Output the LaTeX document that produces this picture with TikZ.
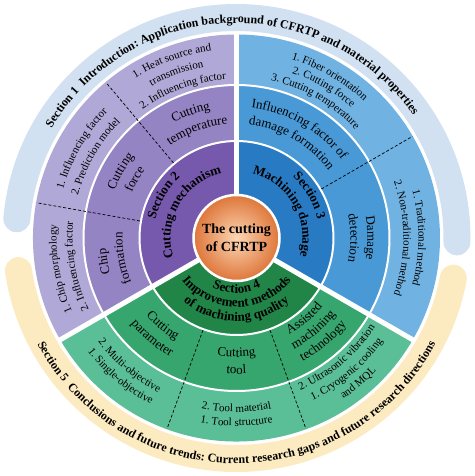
\documentclass[tikz,border=0pt]{standalone}
\usepackage{fontspec}
\setmainfont{Liberation Serif}
\usetikzlibrary{decorations.text}

\definecolor{purA}{RGB}{118,88,172}
\definecolor{purB}{RGB}{148,132,195}
\definecolor{purC}{RGB}{176,168,214}
\definecolor{bluA}{RGB}{40,122,195}
\definecolor{bluB}{RGB}{72,153,214}
\definecolor{bluC}{RGB}{112,178,225}
\definecolor{grnA}{RGB}{33,133,72}
\definecolor{grnB}{RGB}{55,165,110}
\definecolor{grnC}{RGB}{90,190,150}
\definecolor{bandblue}{RGB}{210,225,241}
\definecolor{bandyellow}{RGB}{252,235,192}
\definecolor{corein}{RGB}{252,214,180}
\definecolor{coreout}{RGB}{222,118,58}

\newcommand{\secfont}{\bfseries\fontsize{13}{15}\selectfont}
\newcommand{\midfont}{\fontsize{13}{15}\selectfont}
\newcommand{\outfont}{\fontsize{11}{13}\selectfont}
\newcommand{\bandfont}{\bfseries\fontsize{12}{14}\selectfont}

% piece of a ring: colour, from, to, inner r, outer r
\newcommand{\ringpart}[5]{\fill[#1] (#2:#4) arc[start angle=#2,end angle=#3,radius=#4] -- (#3:#5) arc[start angle=#3,end angle=#2,radius=#5] -- cycle;}
% one line of text on an arc: from, to, radius, font, text
\newcommand{\arcline}[5]{\path[decorate,decoration={text along path,text align=center,text={|#4|#5}}] (#1:#3) arc[start angle=#1,end angle=#2,radius=#3];}

\tikzset{
  gapline/.style={white, line width=5},
  ringline/.style={white, line width=2},
  cutline/.style={black, line width=0.7, dash pattern=on 3pt off 2pt},
  bandarc/.style={line width=27, line cap=round}
}

\begin{document}
\begin{tikzpicture}[x=1pt,y=1pt]
\useasboundingbox (-236.5,-238) rectangle (237.5,238);

\draw[bandarc, bandblue] (175:220.5) arc[start angle=175, end angle=-1, radius=220.5];
\draw[bandarc, bandyellow] (188.5:220.5) arc[start angle=188.5, end angle=349.5, radius=220.5];

\ringpart{purA}{90}{210}{40}{97}
\ringpart{purB}{90}{210}{97}{153}
\ringpart{purC}{90}{210}{153}{203.5}
\ringpart{bluA}{-30}{90}{40}{97}
\ringpart{bluB}{-30}{90}{97}{153}
\ringpart{bluC}{-30}{90}{153}{203.5}
\ringpart{grnA}{210}{330}{40}{97}
\ringpart{grnB}{210}{330}{97}{153}
\ringpart{grnC}{210}{330}{153}{203.5}

\foreach \r in {97,153}{
  \draw[ringline] (0,0) circle[radius=\r];
}
\foreach \a in {90,210,330}{
  \draw[gapline] (0,0) -- (\a:205);
}
\foreach \a in {30,130,170,250,290}{
  \draw[cutline] (\a:98) -- (\a:203);
}

\shadedraw[inner color=corein, outer color=coreout, draw=white, line width=2.5] (0,0) circle[radius=43];
\node[align=center, font=\bfseries\fontsize{14}{18}\selectfont] (core) at (0,0) {The cutting\\of CFRTP};

% sections
\arcline{210}{90}{83}{\secfont}{Section 2}
\arcline{210}{90}{66}{\secfont}{Cutting mechanism}
\arcline{90}{-30}{83}{\secfont}{Section 3}
\arcline{90}{-30}{66}{\secfont}{Machining damage}
\arcline{210}{330}{55}{\secfont}{Section 4}
\arcline{210}{330}{69}{\secfont}{Improvement methods}
\arcline{210}{330}{83}{\secfont}{of machining quality}

% middle ring
\arcline{130}{90}{131}{\midfont}{Cutting}
\arcline{130}{90}{114}{\midfont}{temperature}
\arcline{170}{130}{131}{\midfont}{Cutting}
\arcline{170}{130}{114}{\midfont}{force}
\arcline{210}{170}{131}{\midfont}{Chip}
\arcline{210}{170}{114}{\midfont}{formation}
\arcline{90}{30}{131}{\midfont}{Influencing factor of}
\arcline{90}{30}{114}{\midfont}{damage formation}
\arcline{30}{-30}{131}{\midfont}{Damage}
\arcline{30}{-30}{114}{\midfont}{detection}
\arcline{210}{250}{119}{\midfont}{Cutting}
\arcline{210}{250}{136}{\midfont}{parameter}
\arcline{250}{290}{119}{\midfont}{Cutting}
\arcline{250}{290}{136}{\midfont}{tool}
\arcline{290}{330}{110}{\midfont}{Assisted}
\arcline{290}{330}{125}{\midfont}{machining}
\arcline{290}{330}{140}{\midfont}{technology}

% outer ring
\arcline{130}{90}{189}{\outfont}{1. Heat source and}
\arcline{130}{90}{174}{\outfont}{transmission}
\arcline{130}{90}{159}{\outfont}{2. Influencing factor}
\arcline{170}{130}{180}{\outfont}{1. Influencing factor}
\arcline{170}{130}{164}{\outfont}{2. Prediction model}
\arcline{210}{170}{180}{\outfont}{1. Chip morphology}
\arcline{210}{170}{164}{\outfont}{2. Influencing factor}
\arcline{90}{30}{187}{\outfont}{1. Fiber orientation}
\arcline{90}{30}{174}{\outfont}{2. Cutting force}
\arcline{90}{30}{161}{\outfont}{3. Cutting temperature}
\arcline{30}{-30}{182}{\outfont}{1. Traditional method}
\arcline{30}{-30}{167}{\outfont}{2. Non-traditional method}
\arcline{210}{250}{173}{\outfont}{2. Multi-objective}
\arcline{210}{250}{187}{\outfont}{1. Single-objective}
\arcline{250}{290}{174}{\outfont}{2. Tool material}
\arcline{250}{290}{188}{\outfont}{1. Tool structure}
\arcline{290}{330}{165}{\outfont}{2. Ultrasonic vibration}
\arcline{290}{330}{179}{\outfont}{1. Cryogenic cooling}
\arcline{290}{330}{193}{\outfont}{and MQL}

% bands
\arcline{178}{6}{215}{\bandfont}{Section 1 {\ }Introduction: Application background of CFRTP and material properties}
\arcline{190}{350}{225.5}{\bandfont}{Section 5 {\ }Conclusions and future trends: Current research gaps and future research directions}
\end{tikzpicture}
\end{document}
